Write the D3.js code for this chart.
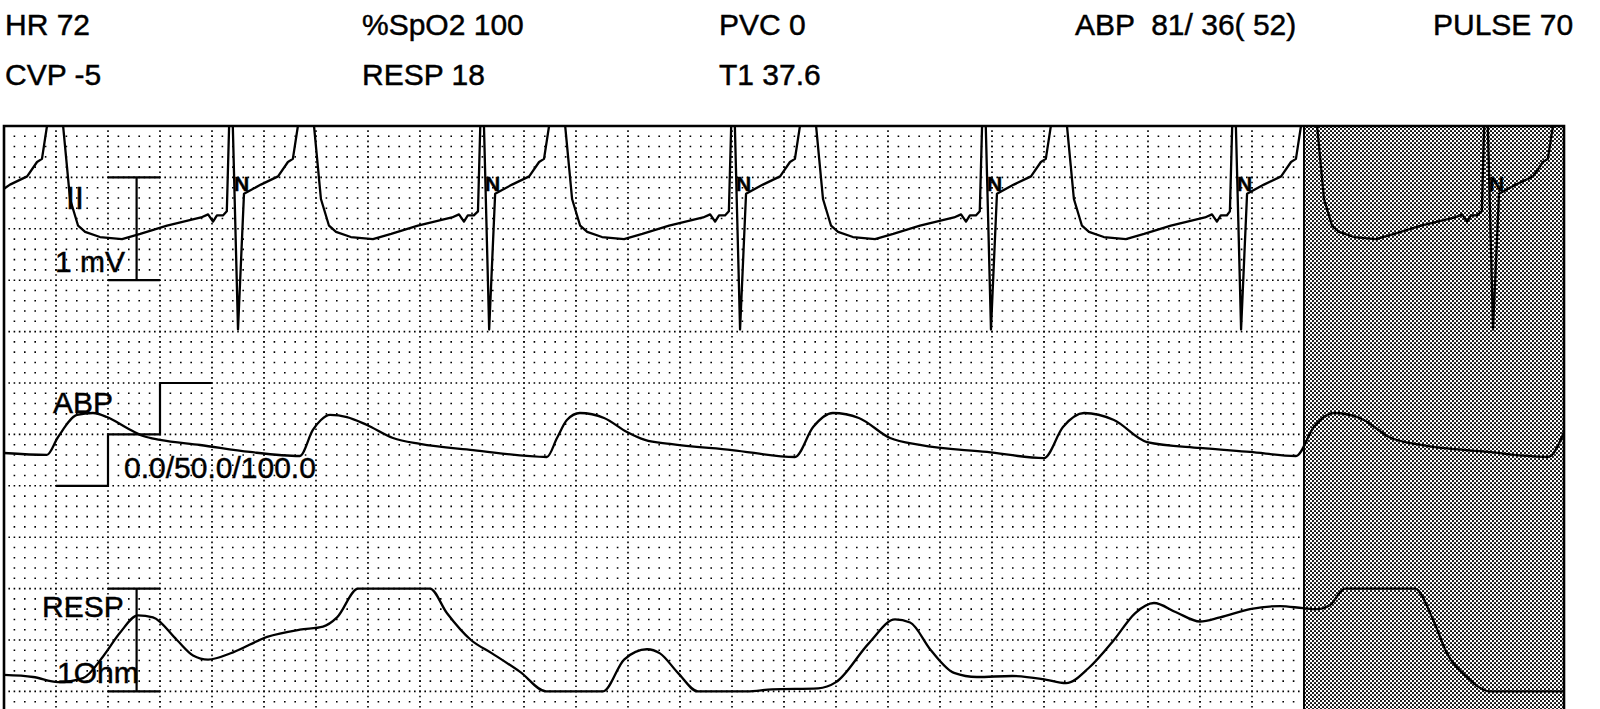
<!DOCTYPE html>
<html lang="en">
<head>
  <meta charset="UTF-8" />
  <script src="https://d3js.org/d3.v7.min.js"></script>
  <style>
    body { margin: 0; background: #fff; }
    text { font-family: "Liberation Sans", Arial, sans-serif; fill: #000; white-space: pre; }
    text.ink { stroke: #000; stroke-width: 0.45; }
  </style>
</head>
<body>
  <div id="chart"></div>

  <script>
    // numerics printed above the strip
    const headerRow1 = ["HR 72", "%SpO2 100", "PVC 0", "ABP  81/ 36( 52)", "PULSE 70"];
    const headerRow2 = ["CVP -5", "RESP 18", "T1 37.6"];

    // R-wave times (s), each tagged "N"
    const rTimes = [0.869, 1.835, 2.800, 3.765, 4.727, 5.696];

    // lead II, [time s, mV] (peaks above the strip get cut by the frame)
    const ecgBeat0 = [[0, 0.89], [0.023, 0.93], [0.089, 1.01], [0.127, 1.15], [0.146, 1.18], [0.166, 1.51], [0.196, 1.9], [0.227, 1.51], [0.254, 0.79], [0.285, 0.53], [0.312, 0.47], [0.369, 0.42], [0.454, 0.40], [0.524, 0.45], [0.627, 0.53], [0.758, 0.61], [0.785, 0.64], [0.804, 0.57], [0.819, 0.63], [0.842, 0.63]];
    const ecgBeat1 = [[0.857, 0.67], [0.869, 1.8], [0.877, 1.8], [0.900, -0.48], [0.923, 0.84], [0.988, 0.93], [1.054, 1.01], [1.092, 1.15], [1.111, 1.18], [1.131, 1.51], [1.161, 1.9], [1.192, 1.51], [1.219, 0.79], [1.250, 0.53], [1.277, 0.47], [1.334, 0.42], [1.419, 0.40], [1.489, 0.45], [1.592, 0.53], [1.723, 0.61], [1.750, 0.64], [1.769, 0.57], [1.784, 0.63], [1.807, 0.63]];
    const ecgBeat2 = [[1.823, 0.67], [1.835, 1.8], [1.843, 1.8], [1.866, -0.48], [1.889, 0.84], [1.954, 0.93], [2.020, 1.01], [2.058, 1.15], [2.077, 1.18], [2.097, 1.51], [2.127, 1.9], [2.158, 1.51], [2.185, 0.79], [2.216, 0.53], [2.243, 0.47], [2.300, 0.42], [2.385, 0.40], [2.455, 0.45], [2.558, 0.53], [2.689, 0.61], [2.716, 0.64], [2.735, 0.57], [2.750, 0.63], [2.773, 0.63]];
    const ecgBeat3 = [[2.788, 0.67], [2.800, 1.8], [2.808, 1.8], [2.831, -0.48], [2.854, 0.84], [2.919, 0.93], [2.985, 1.01], [3.023, 1.15], [3.042, 1.18], [3.062, 1.51], [3.092, 1.9], [3.123, 1.51], [3.150, 0.79], [3.181, 0.53], [3.208, 0.47], [3.265, 0.42], [3.350, 0.40], [3.420, 0.45], [3.523, 0.53], [3.654, 0.61], [3.681, 0.64], [3.700, 0.57], [3.715, 0.63], [3.738, 0.63]];
    const ecgBeat4 = [[3.753, 0.67], [3.765, 1.8], [3.773, 1.8], [3.796, -0.48], [3.819, 0.84], [3.884, 0.93], [3.950, 1.01], [3.988, 1.15], [4.007, 1.18], [4.027, 1.51], [4.057, 1.9], [4.088, 1.51], [4.115, 0.79], [4.146, 0.53], [4.173, 0.47], [4.230, 0.42], [4.315, 0.40], [4.385, 0.45], [4.488, 0.53], [4.619, 0.61], [4.646, 0.64], [4.665, 0.57], [4.680, 0.63], [4.703, 0.63]];
    const ecgBeat5 = [[4.715, 0.67], [4.727, 1.8], [4.735, 1.8], [4.758, -0.48], [4.781, 0.84], [4.846, 0.93], [4.912, 1.01], [4.950, 1.15], [4.969, 1.18], [4.989, 1.51], [5.019, 1.9], [5.050, 1.51], [5.077, 0.79], [5.108, 0.53], [5.135, 0.47], [5.192, 0.42], [5.277, 0.40], [5.347, 0.45], [5.450, 0.53], [5.581, 0.61], [5.608, 0.64], [5.627, 0.57], [5.642, 0.63], [5.665, 0.63]];
    const ecgBeat6 = [[5.684, 0.67], [5.696, 1.8], [5.704, 1.8], [5.727, -0.48], [5.750, 0.84], [5.815, 0.93], [5.881, 1.01], [5.919, 1.15], [5.938, 1.18], [5.958, 1.51], [5.988, 1.9], [6.019, 1.51]];

    // arterial pressure, [time s, mmHg]
    const abpPoints = [
      [0, 31.9], [0.165, 30.0], [0.208, 47.5], [0.281, 68.9], [0.342, 70.8], [0.396, 66.9], [0.473, 56.2], [0.535, 48.4], [0.600, 44.6], [0.754, 39.7], [0.946, 32.9], [1.138, 29.0],
      [1.188, 54.3], [1.219, 64.0], [1.254, 68.9], [1.319, 66.9], [1.396, 59.1], [1.496, 46.5], [1.600, 40.7], [1.804, 34.8], [2.088, 28.0],
      [2.127, 46.5], [2.165, 64.0], [2.215, 70.8], [2.308, 66.0], [2.396, 52.3], [2.465, 44.6], [2.562, 40.7], [2.800, 34.8], [3.042, 28.0],
      [3.112, 57.2], [3.188, 70.8], [3.288, 66.0], [3.408, 46.5], [3.523, 39.7], [3.781, 32.9], [4.000, 27.0],
      [4.073, 57.2], [4.154, 70.8], [4.269, 64.0], [4.396, 42.6], [4.600, 36.8], [4.792, 32.9], [4.969, 29.0],
      [5.038, 57.2], [5.115, 70.8], [5.215, 66.0], [5.335, 46.5], [5.450, 39.7], [5.708, 32.9], [5.938, 28.0],
      [6.008, 57.2]
    ];

    // respiration impedance, [time s, Ohm] (flat parts are where it pins at the channel limits)
    const respPoints = [
      [0, 0.16], [0.112, 0.14], [0.208, 0.09], [0.304, 0.13], [0.381, 0.34], [0.446, 0.57], [0.515, 0.74], [0.573, 0.72], [0.665, 0.50], [0.727, 0.35], [0.785, 0.31],
      [0.881, 0.38], [1.012, 0.53], [1.138, 0.60], [1.227, 0.63], [1.281, 0.72], [1.362, 1.0], [1.638, 1.0], [1.704, 0.76], [1.796, 0.50], [1.877, 0.37], [1.985, 0.19],
      [2.085, 0], [2.304, 0], [2.385, 0.31], [2.473, 0.41], [2.523, 0.37], [2.592, 0.18], [2.669, 0], [2.858, 0], [2.954, 0.02], [3.131, 0.03], [3.200, 0.09],
      [3.327, 0.47], [3.427, 0.70], [3.485, 0.67], [3.565, 0.40], [3.654, 0.18], [3.742, 0.14], [3.877, 0.15], [3.996, 0.12], [4.085, 0.08],
      [4.173, 0.23], [4.269, 0.50], [4.350, 0.76], [4.423, 0.86], [4.508, 0.77], [4.600, 0.68], [4.677, 0.72], [4.792, 0.80], [4.908, 0.83], [4.996, 0.81],
      [5.050, 0.80], [5.100, 0.84], [5.158, 1.0], [5.427, 1.0], [5.496, 0.70], [5.550, 0.37], [5.627, 0.14], [5.715, 0], [6.0, 0]
    ];

    const W = 1600, H = 709;
    const stripLeft = 4, stripRight = 1564, stripTop = 126, cellY = 51.4;
    const frozenFrom = 5.0; // seconds, start of the shaded block

    const svg = d3.select("#chart").append("svg").attr("width", W).attr("height", H);

    const x = d3.scaleLinear().domain([0, 6]).range([stripLeft, stripRight]);
    const gy = d3.scaleLinear().domain([0, 1]).range([stripTop, stripTop + cellY]); // grid rows
    const ecgY = d3.scaleLinear().domain([0, 1]).range([gy(3), gy(1)]);
    const abpY = d3.scaleLinear().domain([0, 100]).range([gy(7), gy(5)]);
    const respY = d3.scaleLinear().domain([0, 1]).range([gy(11), gy(9)]);

    const defs = svg.append("defs");
    defs.append("clipPath").attr("id", "strip")
      .append("rect").attr("x", stripLeft).attr("y", stripTop)
      .attr("width", stripRight - stripLeft).attr("height", H - stripTop);
    const pat = defs.append("pattern").attr("id", "dither")
      .attr("patternUnits", "userSpaceOnUse").attr("width", 4).attr("height", 4);
    pat.append("rect").attr("width", 4).attr("height", 4).attr("fill", "#fff");
    pat.append("circle").attr("cx", 1).attr("cy", 1).attr("r", 1.05).attr("fill", "#000");
    pat.append("circle").attr("cx", 3).attr("cy", 3).attr("r", 1.05).attr("fill", "#000");

    // header
    const cols = [5, 362, 719, 1075, 1433];
    svg.selectAll("text.h1").data(headerRow1).enter().append("text")
      .attr("class", "h1 ink").attr("x", (d, i) => cols[i]).attr("y", 35)
      .attr("font-size", 30).text(d => d);
    svg.selectAll("text.h2").data(headerRow2).enter().append("text")
      .attr("class", "h2 ink").attr("x", (d, i) => cols[i]).attr("y", 85)
      .attr("font-size", 30).text(d => d);

    const g = svg.append("g").attr("clip-path", "url(#strip)");

    // grid: dotted majors every 0.2 s / cell, dot lattice every 0.04 s
    const majorT = d3.range(0, 6.001, 0.2);
    const rowsMajor = d3.range(0, 12);
    const rowsMinor = d3.range(0, 58).filter(j => j % 5 !== 0);

    g.selectAll("line.mv").data(majorT).enter().append("line")
      .attr("x1", d => x(d)).attr("x2", d => x(d))
      .attr("y1", stripTop - 0.8).attr("y2", H)
      .attr("stroke", "#000").attr("stroke-width", 1.6)
      .attr("stroke-dasharray", "1.6 3.54");
    g.selectAll("line.mh").data(rowsMajor).enter().append("line")
      .attr("x1", stripLeft - 0.8).attr("x2", stripRight)
      .attr("y1", d => gy(d)).attr("y2", d => gy(d))
      .attr("stroke", "#000").attr("stroke-width", 1.6)
      .attr("stroke-dasharray", "1.6 3.6");
    g.selectAll("line.nh").data(rowsMinor).enter().append("line")
      .attr("x1", stripLeft - 0.8).attr("x2", stripRight)
      .attr("y1", d => gy(d / 5)).attr("y2", d => gy(d / 5))
      .attr("stroke", "#000").attr("stroke-width", 1.6)
      .attr("stroke-dasharray", "1.6 8.8");

    // shaded (frozen) block
    g.append("rect")
      .attr("x", x(frozenFrom)).attr("y", stripTop)
      .attr("width", stripRight - x(frozenFrom)).attr("height", H - stripTop)
      .attr("fill", "url(#dither)");
    g.append("line")
      .attr("x1", x(frozenFrom)).attr("x2", x(frozenFrom))
      .attr("y1", stripTop).attr("y2", H)
      .attr("stroke", "#000").attr("stroke-width", 2);

    // calibration marks
    const cal = g.append("g").attr("stroke", "#000").attr("stroke-width", 2.2).attr("fill", "none");
    const calT = 0.51;
    [[ecgY, 0, 1], [respY, 0, 1]].forEach(([sy, lo, hi]) => {
      cal.append("line").attr("x1", x(calT)).attr("x2", x(calT)).attr("y1", sy(lo)).attr("y2", sy(hi));
      cal.append("line").attr("x1", x(0.4)).attr("x2", x(0.6)).attr("y1", sy(lo)).attr("y2", sy(lo));
      cal.append("line").attr("x1", x(0.4)).attr("x2", x(0.6)).attr("y1", sy(hi)).attr("y2", sy(hi));
    });
    const abpSteps = [[0.2, 0], [0.4, 0], [0.4, 50], [0.6, 50], [0.6, 100], [0.8, 100]];
    cal.append("path")
      .attr("d", d3.line().x(d => x(d[0])).y(d => abpY(d[1]))(abpSteps));

    // traces
    const ecgLine = d3.line().x(d => x(d[0])).y(d => ecgY(d[1]));
    const abpLine = d3.line().x(d => x(d[0])).y(d => abpY(d[1])).curve(d3.curveMonotoneX);
    const respLine = d3.line().x(d => x(d[0])).y(d => respY(d[1])).curve(d3.curveMonotoneX);
    const ecgPoints = [].concat(ecgBeat0, ecgBeat1, ecgBeat2, ecgBeat3, ecgBeat4, ecgBeat5, ecgBeat6);

    const traces = g.append("g").attr("fill", "none").attr("stroke", "#000")
      .attr("stroke-width", 2.3).attr("stroke-linejoin", "round");
    traces.append("path").attr("d", ecgLine(ecgPoints));
    traces.append("path").attr("d", abpLine(abpPoints));
    traces.append("path").attr("d", respLine(respPoints));

    // beat labels
    g.selectAll("text.beat").data(rTimes).enter().append("text")
      .attr("class", "ink").attr("x", d => x(d) + 4).attr("y", 191)
      .attr("font-size", 21).attr("font-weight", "bold").text("N");

    // channel labels
    const labels = [
      { t: "II", x: 66, y: 209, s: 32 },
      { t: "1 mV", x: 55, y: 272, s: 30 },
      { t: "ABP", x: 53, y: 413, s: 30 },
      { t: "0.0/50.0/100.0", x: 124, y: 478, s: 30 },
      { t: "RESP", x: 42, y: 617, s: 30 },
      { t: "1Ohm", x: 57, y: 683, s: 30 }
    ];
    g.selectAll("text.lab").data(labels).enter().append("text")
      .attr("class", "ink").attr("x", d => d.x).attr("y", d => d.y)
      .attr("font-size", d => d.s).text(d => d.t);

    // frame
    svg.append("path")
      .attr("d", `M${stripLeft},${H + 5}V${stripTop}H${stripRight}V${H + 5}`)
      .attr("fill", "none").attr("stroke", "#000").attr("stroke-width", 2.6);
  </script>
</body>
</html>
